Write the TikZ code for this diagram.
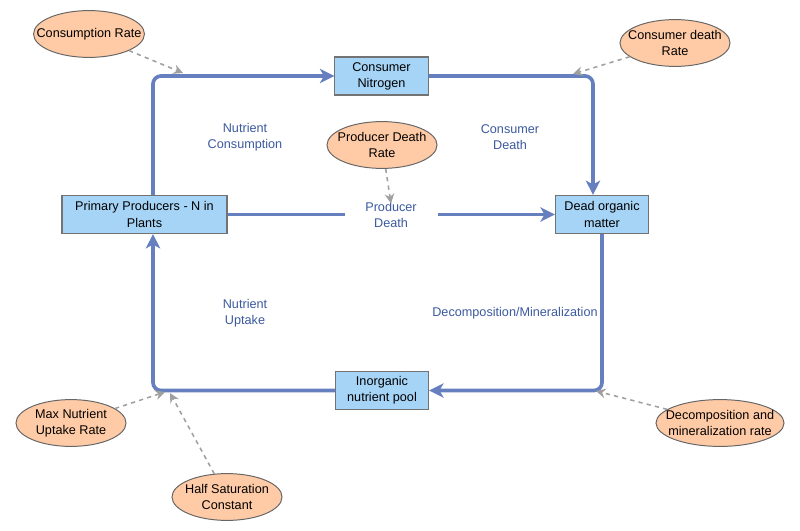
\documentclass[tikz,border=0pt]{standalone}
\usepackage{fontspec}
\setmainfont{Liberation Sans}
\usetikzlibrary{shapes.geometric,arrows.meta}

\definecolor{flowblue}{HTML}{6680BF}
\definecolor{stockfill}{HTML}{A6D4F7}
\definecolor{parfill}{HTML}{FFCBA6}
\definecolor{ratetext}{HTML}{3C5A9E}
\definecolor{infogray}{HTML}{A0A0A0}

\begin{document}
\begin{tikzpicture}[x=0.025cm, y=-0.025cm, font=\fontsize{9}{11.5}\selectfont]
  \useasboundingbox (0,0) rectangle (800,531);
  \tikzset{stock/.style={draw=black!55, line width=0.8pt, fill=stockfill, align=center,
                         minimum width=2.33cm, minimum height=0.95cm, inner sep=1pt},
           param/.style={ellipse, draw=black!60, line width=0.7pt, fill=parfill, align=center,
                         minimum width=2.75cm, minimum height=1.17cm,
                         inner xsep=-0.33cm, inner ysep=0pt},
           rate/.style={text=ratetext, align=center, fill=white, inner sep=1pt},
           flow/.style={draw=flowblue, line width=2.6pt, rounded corners=0.2cm,
                        -{Stealth[length=3.6mm, width=3.6mm, inset=1mm]}},
           info/.style={draw=infogray, dashed, line width=1.1pt,
                        -{Stealth[length=2.4mm, width=2.4mm, inset=0.8mm]}}}

 % stocks
  \node[stock] (cons) at (381.5, 76) {Consumer\\Nitrogen};
  \node[stock, minimum width=4.125cm] (prod) at (144.5, 214.5) {Primary Producers - N in\\Plants};
  \node[stock] (dead) at (602, 214.5) {Dead organic\\matter};
  \node[stock] (inorg) at (382, 390.5) {Inorganic\\nutrient pool};

 % corners of the loop
  \coordinate (tl) at (153, 76);
  \coordinate (tr) at (593, 76);
  \coordinate (br) at (602, 390.5);
  \coordinate (bl) at (153, 390.5);

 % flow names
  \node[rate] (pdeath) at (391, 215) {Producer\\Death};
  \node[rate] (ncons) at (245, 137) {Nutrient\\Consumption};
  \node[rate] (cdeath) at (510, 137) {Consumer\\Death};
  \node[rate] (nup) at (245, 313) {Nutrient\\Uptake};

 % flows
  \draw[flow] (prod.north -| tl) -- (tl) -- (cons.west);
  \draw[flow] (cons.east) -- (tr) -- (dead.north -| tr);
  \draw[flow, -] (prod.east) -- (prod.east -| 345,0);
  \draw[flow] (dead.west -| 438,0) -- (dead.west);
  \draw[flow] (dead.south) -- (br) -- (inorg.east);
  \draw[flow] (inorg.west) -- (bl) -- (prod.south -| bl);
  \node[rate] (decomp) at (515, 313) {Decomposition/Mineralization};

 % parameters
  \node[param] (crate) at (89, 34) {Consumption Rate};
  \node[param] (cdrate) at (675, 43) {Consumer death\\Rate};
  \node[param] (pdrate) at (382, 145) {Producer Death\\Rate};
  \node[param] (mrate) at (71, 423) {Max Nutrient\\Uptake Rate};
  \node[param] (hsat) at (227, 497) {Half Saturation\\Constant};
  \node[param, minimum width=3.2cm] (drate) at (720, 423) {Decomposition and\\mineralization rate};

 % links from parameters
  \coordinate (crend) at (183, 73);
  \coordinate (cdend) at (573, 74);
  \coordinate (mrend) at (165, 392);
  \coordinate (hsend) at (170, 393);
  \coordinate (drend) at (596, 391);
  \draw[info] (crate) -- (crend);
  \draw[info] (cdrate) -- (cdend);
  \draw[info] (pdrate) -- ([yshift=-2pt]pdeath.north);
  \draw[info] (mrate) -- (mrend);
  \draw[info] (hsat) -- (hsend);
  \draw[info] (drate) -- (drend);
\end{tikzpicture}
\end{document}
